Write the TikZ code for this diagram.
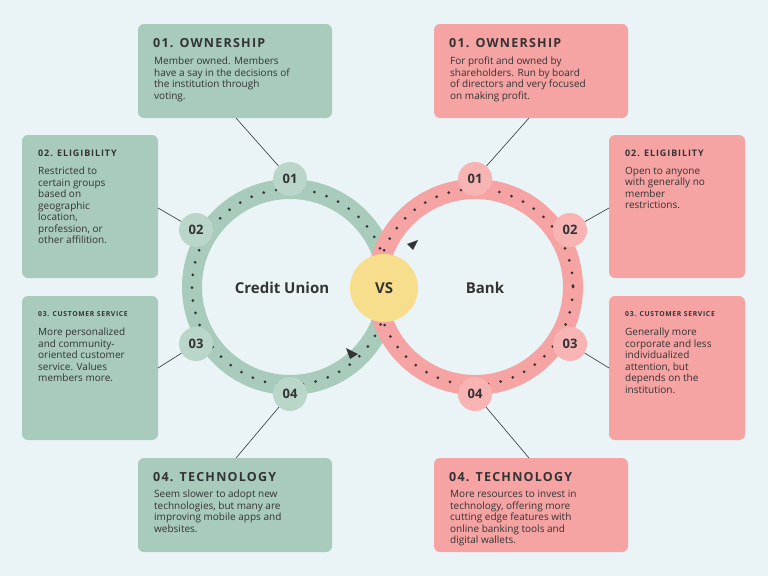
\documentclass[tikz,border=0pt]{standalone}
\usepackage{fontspec}
\setmainfont{Open Sans}
\newfontfamily\spaced[LetterSpace=10]{Open Sans}
\usetikzlibrary{arrows.meta}
\definecolor{bg}{HTML}{EAF4F6}
\definecolor{gr}{HTML}{A8CBBB}
\definecolor{grl}{HTML}{B9D6C8}
\definecolor{rd}{HTML}{F6A3A3}
\definecolor{rdl}{HTML}{F8B3B3}
\definecolor{yl}{HTML}{F7DE8C}
\definecolor{tx}{HTML}{333333}
\tikzset{
 box/.style={rounded corners=6pt,inner sep=0pt},
 ttl/.style={anchor=north west,font=\spaced\bfseries\fontsize{12.5}{13}\selectfont,text=tx,inner sep=0pt},
 ttls/.style={anchor=north west,font=\spaced\bfseries\fontsize{9}{10}\selectfont,text=tx,inner sep=0pt},
 bdy/.style={anchor=north west,font=\fontsize{10}{11.5}\selectfont,text=tx,align=left,inner sep=0pt},
 num/.style={circle,minimum size=34pt,inner sep=0pt},
 numt/.style={font=\bfseries\fontsize{13}{14}\selectfont,text=tx},
 ln/.style={draw=tx,line width=0.6pt},
 dots/.style={draw=tx,line width=3pt,line cap=round,dash pattern=on 0pt off 12.8pt}
}
\begin{document}
\begin{tikzpicture}[x=1pt,y=-1pt]
\fill[bg] (0,0) rectangle (768,576);
\useasboundingbox (0,0) rectangle (768,576);
% rings
\fill[gr,even odd rule] (290,287) circle (108) (290,287) circle (88);
\fill[rd,even odd rule] (475,287) circle (108) (475,287) circle (88);
\draw[dots] (290,287) circle (98);
\draw[dots] (475,287) circle (98);
\fill[tx] (350,359) -- +(-4,-11) -- +(8,-5) -- cycle;
\fill[tx] (413,250) -- +(5,-10) -- +(-6,-6) -- cycle;
\node[circle,fill=yl,minimum size=68pt] (vs) at (384,288) {};
\node[font=\bfseries\fontsize{15}{16}\selectfont,text=tx] at (vs) {VS};
\node[font=\bfseries\fontsize{15}{16}\selectfont,text=tx] (cu) at (282,288) {Credit Union};
\node[font=\bfseries\fontsize{15}{16}\selectfont,text=tx] (bk) at (485,288) {Bank};
% number circles
\foreach \n/\x/\y in {g1/290/179,g2/196/230,g3/196/344,g4/290/394}{\node[num,fill=grl] (\n) at (\x,\y) {};}
\foreach \n/\x/\y in {r1/475/179,r2/570/230,r3/570/344,r4/475/394}{\node[num,fill=rdl] (\n) at (\x,\y) {};}
\foreach \n/\t in {g1/01,g2/02,g3/03,g4/04,r1/01,r2/02,r3/03,r4/04}{\node[numt] at (\n) {\t};}
% boxes
\fill[gr,box] (138,24) rectangle (332,118);
\fill[gr,box] (22,135) rectangle (158,278);
\fill[gr,box] (22,296) rectangle (158,440);
\fill[gr,box] (138,458) rectangle (332,552);
\fill[rd,box] (434,24) rectangle (628,118);
\fill[rd,box] (609,135) rectangle (745,278);
\fill[rd,box] (609,296) rectangle (745,440);
\fill[rd,box] (434,458) rectangle (628,552);
% connectors
\coordinate (a1) at (236,118); \draw[ln] (a1) -- (g1);
\coordinate (a2) at (158,208); \draw[ln] (a2) -- (g2);
\coordinate (a3) at (158,368); \draw[ln] (a3) -- (g3);
\coordinate (a4) at (236,458); \draw[ln] (a4) -- (g4);
\coordinate (b1) at (529,118); \draw[ln] (b1) -- (r1);
\coordinate (b2) at (609,208); \draw[ln] (b2) -- (r2);
\coordinate (b3) at (609,368); \draw[ln] (b3) -- (r3);
\coordinate (b4) at (529,458); \draw[ln] (b4) -- (r4);
% texts
\node[ttl] at (153,38) {01. OWNERSHIP};
\node[bdy] at (154,57) {Member owned. Members\\have a say in the decisions of\\the institution through\\voting.};
\node[ttls] at (38,150) {02. ELIGIBILITY};
\node[bdy] at (38,167) {Restricted to\\certain groups\\based on\\geographic\\location,\\profession, or\\other affilition.};
\node[ttls,font=\spaced\bfseries\fontsize{6.8}{8}\selectfont] at (38,311) {03. CUSTOMER SERVICE};
\node[bdy] at (38,328) {More personalized\\and community-\\oriented customer\\service. Values\\members more.};
\node[ttl] at (153,472) {04. TECHNOLOGY};
\node[bdy] at (154,490) {Seem slower to adopt new\\technologies, but many are\\improving mobile apps and\\websites.};
\node[ttl] at (449,38) {01. OWNERSHIP};
\node[bdy] at (450,57) {For profit and owned by\\shareholders. Run by board\\of directors and very focused\\on making profit.};
\node[ttls] at (625,150) {02. ELIGIBILITY};
\node[bdy] at (625,167) {Open to anyone\\with generally no\\member\\restrictions.};
\node[ttls,font=\spaced\bfseries\fontsize{6.8}{8}\selectfont] at (625,311) {03. CUSTOMER SERVICE};
\node[bdy] at (625,328) {Generally more\\corporate and less\\individualized\\attention, but\\depends on the\\institution.};
\node[ttl] at (449,472) {04. TECHNOLOGY};
\node[bdy] at (450,490) {More resources to invest in\\technology, offering more\\cutting edge features with\\online banking tools and\\digital wallets.};
\end{tikzpicture}
\end{document}
